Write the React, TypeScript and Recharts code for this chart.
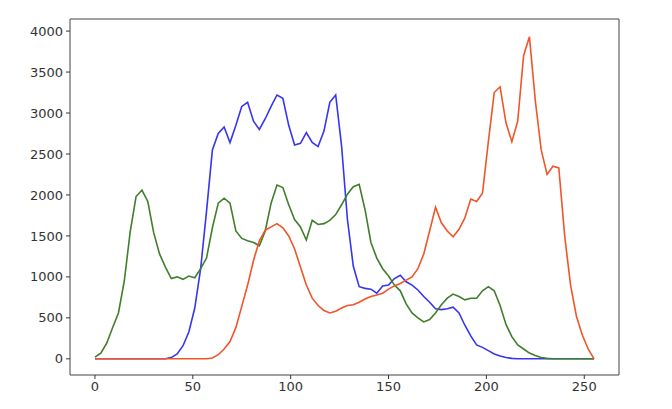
import React from "react";
import {
  LineChart,
  Line,
  XAxis,
  YAxis,
  ReferenceArea,
} from "recharts";

// pixel intensity bins, sampled every 3 levels
const bins = [
  0, 3, 6, 9, 12, 15, 18, 21, 24, 27, 30, 33, 36, 39, 42, 45, 48, 51, 54, 57,
  60, 63, 66, 69, 72, 75, 78, 81, 84, 87, 90, 93, 96, 99, 102, 105, 108, 111,
  114, 117, 120, 123, 126, 129, 132, 135, 138, 141, 144, 147, 150, 153, 156,
  159, 162, 165, 168, 171, 174, 177, 180, 183, 186, 189, 192, 195, 198, 201,
  204, 207, 210, 213, 216, 219, 222, 225, 228, 231, 234, 237, 240, 243, 246,
  249, 252, 255,
];

const blueCounts = [
  0, 0, 0, 0, 0, 0, 0, 0, 0, 0, 0, 0, 0, 15, 60, 160, 330, 620, 1100, 1800,
  2550, 2750, 2830, 2640, 2850, 3080, 3130, 2900, 2800, 2930, 3080, 3220, 3180,
  2850, 2610, 2630, 2760, 2640, 2590, 2780, 3130, 3220, 2600, 1700, 1130, 880,
  860, 850, 800, 890, 900, 980, 1020, 940, 900, 840, 760, 690, 610, 600, 610,
  630, 560, 410, 280, 170, 140, 100, 60, 35, 15, 5, 0, 0, 0, 0, 0, 0, 0, 0, 0,
  0, 0, 0, 0, 0,
];

const greenCounts = [
  20, 70, 190, 380, 560, 950, 1550, 1980, 2060, 1920, 1540, 1280, 1120, 980,
  1000, 970, 1010, 990, 1100, 1230, 1600, 1900, 1960, 1900, 1560, 1470, 1440,
  1420, 1380, 1560, 1900, 2120, 2090, 1880, 1700, 1610, 1450, 1690, 1640, 1650,
  1690, 1760, 1880, 2010, 2100, 2130, 1820, 1420, 1230, 1100, 1010, 900, 830,
  670, 560, 500, 450, 480, 560, 660, 740, 790, 760, 720, 740, 740, 830, 880,
  830, 650, 420, 270, 170, 120, 70, 40, 15, 5, 0, 0, 0, 0, 0, 0, 0, 0,
];

const redCounts = [
  0, 0, 0, 0, 0, 0, 0, 0, 0, 0, 0, 0, 0, 0, 0, 0, 0, 0, 0, 0, 10, 50, 120, 210,
  380, 640, 900, 1200, 1440, 1570, 1610, 1650, 1600, 1500, 1340, 1120, 900,
  740, 650, 590, 560, 580, 620, 650, 660, 690, 730, 760, 780, 800, 850, 890,
  920, 960, 1000, 1100, 1280, 1560, 1850, 1660, 1560, 1490, 1580, 1720, 1950,
  1920, 2020, 2650, 3250, 3320, 2880, 2650, 2900, 3700, 3930, 3150, 2550, 2250,
  2350, 2330, 1500, 900, 520, 290, 120, 0,
];

const xTicks = [0, 50, 100, 150, 200, 250];
const yTicks = [0, 500, 1000, 1500, 2000, 2500, 3000, 3500, 4000];

const data = bins.map((b, i) => ({
  bin: b,
  blue: blueCounts[i],
  green: greenCounts[i],
  red: redCounts[i],
}));

const tickStyle = { fontSize: 13, fill: "#333", fontFamily: "DejaVu Sans" };

export default function App() {
  return (
    <div
      style={{
        position: "absolute",
        left: 0,
        top: 0,
        width: 672,
        height: 409,
        background: "#fff",
      }}
    >
      <LineChart
        width={672}
        height={409}
        data={data}
        margin={{ top: 19, right: 53, bottom: 0, left: 0 }}
      >
        <XAxis
          dataKey="bin"
          type="number"
          domain={[-12.75, 267.75]}
          ticks={xTicks}
          allowDataOverflow
          height={34}
          tickSize={4}
          tickMargin={3}
          axisLine={false}
          tickLine={{ stroke: "#333" }}
          tick={tickStyle}
        />
        <YAxis
          type="number"
          domain={[-197.5, 4147.5]}
          ticks={yTicks}
          allowDataOverflow
          width={70}
          tickSize={4}
          tickMargin={3}
          axisLine={false}
          tickLine={{ stroke: "#333" }}
          tick={tickStyle}
        />
        <ReferenceArea
          x1={-12.75}
          x2={267.75}
          y1={-197.5}
          y2={4147.5}
          fill="none"
          stroke="#444"
          strokeWidth={1}
          fillOpacity={0}
        />
        <Line
          type="linear"
          dataKey="blue"
          stroke="#3535f2"
          strokeWidth={1.6}
          dot={false}
          isAnimationActive={false}
        />
        <Line
          type="linear"
          dataKey="green"
          stroke="#3f7e2a"
          strokeWidth={1.6}
          dot={false}
          isAnimationActive={false}
        />
        <Line
          type="linear"
          dataKey="red"
          stroke="#ef5529"
          strokeWidth={1.6}
          dot={false}
          isAnimationActive={false}
        />
      </LineChart>
    </div>
  );
}
